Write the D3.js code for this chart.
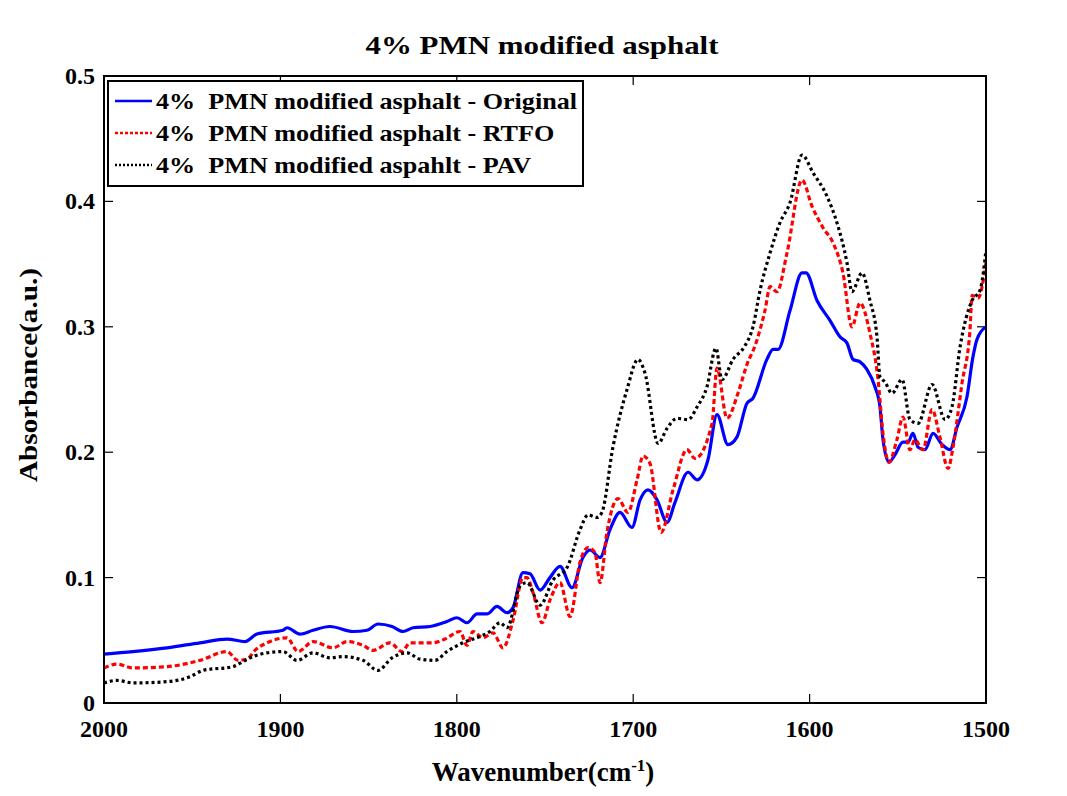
<!DOCTYPE html>
<html><head><meta charset="utf-8">
<script src="https://cdn.jsdelivr.net/npm/d3@7"></script>
<style>
body{margin:0;background:#fff;}
text{font-family:"Liberation Serif","Times New Roman",serif;font-weight:bold;fill:#000;}
</style></head>
<body><svg id="c" width="1067" height="796"></svg>
<script>
const title = "4% PMN modified asphalt";
const xLabel = "Wavenumber(cm";
const yLabel = "Absorbance(a.u.)";
const xTicks = [2000, 1900, 1800, 1700, 1600, 1500];
const yTicks = [0, 0.1, 0.2, 0.3, 0.4, 0.5];
const seriesNames = ["4%  PMN modified asphalt - Original", "4%  PMN modified asphalt - RTFO", "4%  PMN modified aspahlt - PAV"];

const origWn = [2000,1983.6,1964.3,1945.6,1930.3,1920.1,1913.3,1898.5,1896.3,1888.9,1881.5,1871.9,1858.8,1850.9,1844.7,1836.7,1830.5,1824.8,1815.2,1805.6,1799.9,1794.2,1788.5,1782.9,1777.2,1771.5,1768.1,1762.5,1758.5,1752.8,1747.2,1741.5,1734.7,1728.5,1724.5,1718.8,1713.2,1707.5,1700.7,1696.1,1691.6,1686.5,1680.8,1676.3,1668.9,1663.8,1657.6,1652.5,1646.3,1641.2,1635.5,1632.1,1624.2,1620.7,1617.9,1611.1,1604.3,1602.0,1595.8,1588.4,1582.8,1578.8,1575.4,1571.4,1567.5,1562.9,1560.1,1558.4,1555.0,1551.6,1547.1,1544.2,1541.4,1538.5,1534.6,1530.0,1524.9,1520.4,1516.4,1510.8,1507.4,1505.1,1500];
const origAbs = [0.039,0.041,0.044,0.048,0.051,0.049,0.055,0.058,0.060,0.055,0.058,0.061,0.057,0.058,0.063,0.061,0.057,0.060,0.061,0.065,0.068,0.064,0.071,0.071,0.077,0.072,0.076,0.104,0.103,0.090,0.100,0.109,0.092,0.116,0.122,0.116,0.138,0.152,0.140,0.162,0.170,0.162,0.144,0.160,0.184,0.178,0.194,0.230,0.206,0.212,0.239,0.243,0.274,0.282,0.282,0.313,0.343,0.343,0.321,0.305,0.292,0.287,0.274,0.272,0.266,0.252,0.236,0.210,0.192,0.198,0.208,0.208,0.215,0.204,0.202,0.215,0.206,0.202,0.220,0.244,0.276,0.290,0.300];

const rtfoWn = [2000,1992.6,1983.6,1964.3,1945.6,1930.3,1924.0,1918.9,1914.4,1907.6,1896.3,1890.0,1881.5,1870.2,1862.2,1853.2,1847.5,1837.9,1831.1,1826.5,1813.5,1806.7,1798.2,1794.2,1790.8,1785.1,1779.5,1773.8,1768.1,1762.5,1760.2,1756.8,1751.7,1747.2,1741.5,1735.8,1730.2,1725.6,1721.7,1718.8,1714.9,1708.6,1703.0,1697.8,1694.4,1690.5,1684.2,1677.4,1669.5,1665.0,1655.3,1652.5,1646.8,1640.6,1635.5,1630.9,1625.3,1622.4,1618.5,1612.8,1604.3,1598.6,1592.4,1586.7,1581.1,1576.0,1571.4,1565.8,1561.2,1558.4,1555.0,1550.5,1547.1,1543.1,1540.3,1535.7,1530.6,1526.1,1521.5,1518.7,1513.6,1509.1,1507.9,1504.5,1500];
const rtfoAbs = [0.028,0.031,0.028,0.029,0.034,0.041,0.034,0.035,0.042,0.048,0.052,0.041,0.049,0.044,0.049,0.046,0.042,0.048,0.041,0.048,0.048,0.051,0.057,0.046,0.057,0.052,0.056,0.044,0.066,0.100,0.100,0.088,0.064,0.082,0.096,0.069,0.112,0.124,0.120,0.096,0.136,0.163,0.152,0.178,0.197,0.191,0.136,0.170,0.202,0.195,0.223,0.267,0.227,0.247,0.270,0.285,0.313,0.332,0.328,0.359,0.417,0.396,0.379,0.367,0.343,0.300,0.319,0.295,0.258,0.215,0.192,0.210,0.228,0.202,0.210,0.202,0.234,0.212,0.187,0.204,0.255,0.297,0.325,0.323,0.351];

const pavWn = [2000,1992.6,1983.6,1964.3,1951.2,1943.9,1926.9,1921.2,1915.5,1907.6,1898.5,1890.6,1881.5,1871.9,1864.5,1853.2,1844.7,1836.7,1828.2,1820.9,1812.4,1805.6,1796.5,1786.9,1781.2,1775.5,1771.5,1764.2,1760.2,1752.8,1745.5,1737.5,1730.2,1725.6,1720.5,1717.7,1711.5,1703.5,1697.3,1693.3,1685.9,1680.8,1675.2,1668.9,1663.8,1658.2,1653.1,1649.7,1643.4,1636.6,1632.1,1628.1,1622.4,1616.8,1611.1,1604.3,1598.1,1590.1,1584.5,1578.8,1576.0,1570.3,1565.8,1561.8,1560.1,1557.3,1553.3,1547.6,1543.1,1538.5,1530.6,1523.2,1519.3,1514.7,1507.9,1503.4,1500];
const pavAbs = [0.016,0.018,0.016,0.017,0.021,0.026,0.029,0.033,0.037,0.040,0.041,0.034,0.040,0.036,0.037,0.034,0.026,0.036,0.040,0.035,0.034,0.041,0.048,0.053,0.057,0.064,0.060,0.093,0.096,0.078,0.098,0.108,0.138,0.150,0.148,0.152,0.204,0.250,0.274,0.263,0.207,0.219,0.227,0.226,0.236,0.252,0.283,0.258,0.274,0.285,0.300,0.329,0.359,0.383,0.399,0.437,0.423,0.404,0.383,0.351,0.328,0.343,0.321,0.292,0.260,0.256,0.247,0.258,0.226,0.223,0.254,0.226,0.236,0.284,0.321,0.329,0.361];

const colors = ["#0000ff", "#ff0000", "#000000"];
const dashes = [null, "5,3", "3,3"];

const svg = d3.select("#c");
const L = 104, R = 986, T = 76, B = 703;
const x = d3.scaleLinear().domain([2000, 1500]).range([L, R]);
const y = d3.scaleLinear().domain([0, 0.5]).range([B, T]);

function stretch(sel, factor) {
  const w = sel.node().getComputedTextLength();
  sel.attr("textLength", w * factor).attr("lengthAdjust", "spacingAndGlyphs");
}

// ticks (inside, all four sides)
const tk = 9;
const g = svg.append("g");
xTicks.slice(1, -1).forEach(v => {
  g.append("line").attr("x1", x(v)).attr("x2", x(v)).attr("y1", B).attr("y2", B - tk).attr("stroke", "#000").attr("stroke-width", 1.2);
  g.append("line").attr("x1", x(v)).attr("x2", x(v)).attr("y1", T).attr("y2", T + tk).attr("stroke", "#000").attr("stroke-width", 1.2);
});
yTicks.slice(1, -1).forEach(v => {
  g.append("line").attr("x1", L).attr("x2", L + tk).attr("y1", y(v)).attr("y2", y(v)).attr("stroke", "#000").attr("stroke-width", 1.2);
  g.append("line").attr("x1", R).attr("x2", R - tk).attr("y1", y(v)).attr("y2", y(v)).attr("stroke", "#000").attr("stroke-width", 1.2);
});
xTicks.forEach(v => {
  svg.append("text").attr("x", x(v)).attr("y", 737).attr("text-anchor", "middle").attr("font-size", 24).text(v);
});
yTicks.forEach(v => {
  svg.append("text").attr("x", 95).attr("y", y(v) + 8).attr("text-anchor", "end").attr("font-size", 24).text(v === 0 ? "0" : v.toFixed(1));
});

// lines
const line = d3.line().x(d => x(d[0])).y(d => y(d[1])).curve(d3.curveMonotoneX);
const data = [
  d3.zip(origWn, origAbs),
  d3.zip(rtfoWn, rtfoAbs),
  d3.zip(pavWn, pavAbs)
];
svg.append("clipPath").attr("id", "clp").append("rect").attr("x", L).attr("y", T).attr("width", R - L).attr("height", B - T);
data.forEach((d, i) => {
  svg.append("path").datum(d).attr("d", line).attr("fill", "none")
    .attr("stroke", colors[i]).attr("stroke-width", 3.2)
    .attr("stroke-dasharray", dashes[i]).attr("clip-path", "url(#clp)");
});

// box
svg.append("rect").attr("x", L).attr("y", T).attr("width", R - L).attr("height", B - T)
  .attr("fill", "none").attr("stroke", "#000").attr("stroke-width", 2);

// legend
const lg = svg.append("g");
lg.append("rect").attr("x", 108).attr("y", 81).attr("width", 475).attr("height", 105)
  .attr("fill", "#fff").attr("stroke", "#000").attr("stroke-width", 2);
let factor = null;
seriesNames.forEach((n, i) => {
  const yy = 101 + i * 32;
  lg.append("line").attr("x1", 115).attr("x2", 152).attr("y1", yy).attr("y2", yy)
    .attr("stroke", colors[i]).attr("stroke-width", 2.5).attr("stroke-dasharray", dashes[i] ? (i === 1 ? "3,2" : "2,2") : null);
  const t = lg.append("text").attr("x", 156).attr("y", yy + 8).attr("font-size", 24)
    .style("white-space", "pre").text(n);
  if (factor === null) factor = 421 / t.node().getComputedTextLength();
  stretch(t, factor);
});

// title & labels
const tt = svg.append("text").attr("x", 542).attr("y", 54).attr("text-anchor", "middle").attr("font-size", 26).text(title);
tt.attr("textLength", 353).attr("lengthAdjust", "spacingAndGlyphs");
const xl = svg.append("text").attr("x", 543).attr("y", 781).attr("text-anchor", "middle").attr("font-size", 27);
xl.append("tspan").text(xLabel);
xl.append("tspan").attr("dy", -10).attr("font-size", 17).text("-1");
xl.append("tspan").attr("dy", 10).text(")");
const yl = svg.append("text").attr("transform", "translate(37,375) rotate(-90)").attr("text-anchor", "middle").attr("font-size", 26).text(yLabel);
yl.attr("textLength", 214).attr("lengthAdjust", "spacingAndGlyphs");
</script></body></html>
